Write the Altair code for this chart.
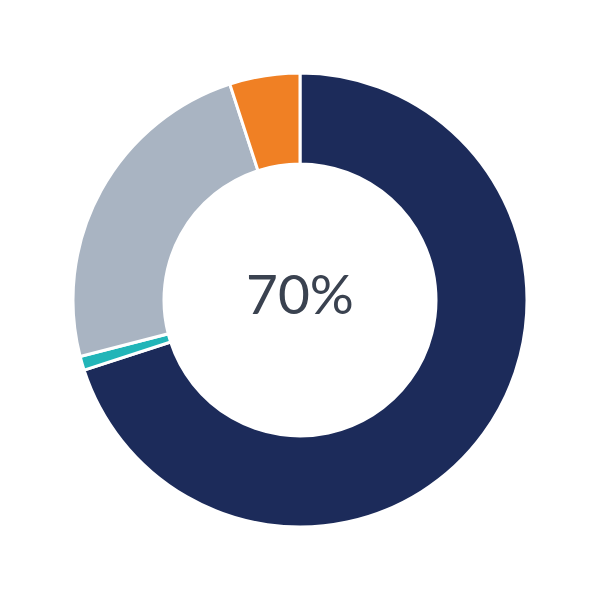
import altair as alt
import pandas as pd

categories = ["A", "B", "C", "D"]
values = [70, 1, 24, 5]
colors = ["#1c2b5a", "#22b5b8", "#a9b4c2", "#f08024"]
center_label = "70%"

df = pd.DataFrame({"cat": categories, "value": values, "order": list(range(len(values)))})

arcs = alt.Chart(df).mark_arc(outerRadius=227, innerRadius=136, stroke="white", strokeWidth=3).encode(
    theta=alt.Theta("value:Q", stack=True),
    order=alt.Order("order:Q"),
    color=alt.Color("cat:N", scale=alt.Scale(domain=categories, range=colors), legend=None),
)

text = alt.Chart(pd.DataFrame({"t": [center_label]})).mark_text(
    font="Lato", fontSize=55, fontWeight=400, color="#3a4250", baseline="middle", align="center"
).encode(text="t:N", x=alt.value(292), y=alt.value(289))

chart = alt.layer(arcs, text).properties(
    width=584, height=584, padding=0, autosize=alt.AutoSizeParams(type="none")
).configure_view(stroke=None)

chart.save("out.html", embed_options={"renderer": "svg", "actions": False})
